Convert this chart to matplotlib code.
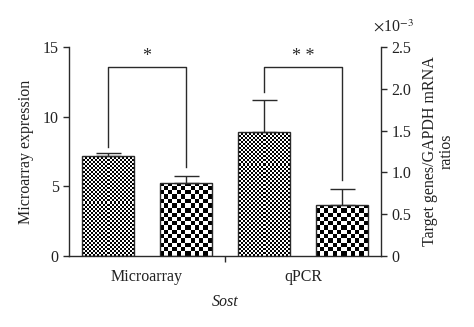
import numpy as np
import matplotlib
matplotlib.use("Agg")
import matplotlib.pyplot as plt

plt.rcParams['font.family'] = ['Liberation Serif', 'DejaVu Serif']
plt.rcParams['mathtext.fontset'] = 'stix'

# Data
groups = ["Microarray", "qPCR"]
micro_means = [7.18, 5.26]
micro_err = [0.22, 0.48]
qpcr_means = [1.487e-3, 0.607e-3]
qpcr_err = [0.38e-3, 0.20e-3]
sig_labels = ["*", "* *"]
left_ticks = [0, 5, 10, 15]
right_ticks = [0, 0.5e-3, 1.0e-3, 1.5e-3, 2.0e-3, 2.5e-3]
right_ticklabels = ["0", "0.5", "1.0", "1.5", "2.0", "2.5"]

W, H = 474, 327
fig = plt.figure(figsize=(W/100, H/100), dpi=100)
ax = fig.add_axes([69/W, 1-256/H, (381-69)/W, (256-47)/H])
ax2 = ax.twinx()

col = '#2a2a2a'
fs = 11.5
bw = 0.667
xpos = np.arange(4)

ax.set_xlim(-0.5, 3.5)
ax.set_ylim(0, 15)
ax2.set_ylim(0, 2.5e-3)

def checker(axis, x, h, cell_px):
    p0 = axis.transData.transform((x - bw/2, 0))
    p1 = axis.transData.transform((x + bw/2, h))
    x0, x1 = int(np.floor(p0[0])), int(np.ceil(p1[0]))
    y0, y1 = int(np.floor(p0[1])), int(np.ceil(p1[1]))
    ix = np.arange(x1 - x0)
    iy = np.arange(y1 - y0)
    img = ((np.floor(iy / cell_px)[:, None] + np.floor(ix / cell_px)[None, :]) % 2).astype(float)
    inv = axis.transData.inverted()
    d0 = inv.transform((x0, y0))
    d1 = inv.transform((x1, y1))
    b = axis.bar(x, h, width=bw, facecolor='none', edgecolor=col, linewidth=1.0, zorder=3)
    im = axis.imshow(img, cmap='gray', vmin=0, vmax=1, extent=(d0[0], d1[0], d0[1], d1[1]),
                     origin='lower', aspect='auto', interpolation='nearest', zorder=2)
    im.set_clip_path(b.patches[0])

cells = [2, 4.3]
for i in range(2):
    checker(ax, xpos[i], micro_means[i], cells[i])
    ax.errorbar(xpos[i], micro_means[i], yerr=[[0], [micro_err[i]]], fmt='none',
                ecolor=col, elinewidth=1.0, capsize=9, capthick=1.0, zorder=4)
    checker(ax2, xpos[2+i], qpcr_means[i], cells[i])
    ax2.errorbar(xpos[2+i], qpcr_means[i], yerr=[[0], [qpcr_err[i]]], fmt='none',
                 ecolor=col, elinewidth=1.0, capsize=9, capthick=1.0, zorder=4)

ax.set_xlim(-0.5, 3.5)
ax.set_ylim(0, 15)
ax2.set_ylim(0, 2.5e-3)

# significance brackets (left-axis units)
top = 13.6
ax.plot([0, 0, 1, 1], [7.85, top, top, 6.4], color=col, lw=1.0)
ax.text(0.5, top + 0.1, sig_labels[0], ha='center', va='bottom', fontsize=13, color=col)
ax.plot([2, 2, 3, 3], [11.8, top, top, 5.45], color=col, lw=1.0)
ax.text(2.5, top + 0.1, sig_labels[1], ha='center', va='bottom', fontsize=13, color=col)

for a in (ax, ax2):
    a.spines['top'].set_visible(False)
    for s in a.spines.values():
        s.set_color(col)
        s.set_linewidth(1.0)
ax.spines['right'].set_visible(False)
ax2.spines['left'].set_visible(False)
ax2.spines['bottom'].set_visible(False)

ax.set_yticks(left_ticks)
ax.set_yticklabels([str(t) for t in left_ticks])
ax2.set_yticks(right_ticks)
ax2.set_yticklabels(right_ticklabels)
ax.set_xticks([1.5])
ax.set_xticklabels([""])
ax.tick_params(axis='y', direction='out', length=4, width=1, colors=col, labelsize=fs, labelcolor='#222')
ax2.tick_params(axis='y', direction='out', length=4, width=1, colors=col, labelsize=fs, labelcolor='#222')
ax.tick_params(axis='x', direction='out', length=4, width=1, colors=col)

for gx, g in zip([0.5, 2.5], groups):
    ax.text(gx, -0.06, g, transform=ax.get_xaxis_transform(), ha='center', va='top',
            fontsize=fs, color='#222')
ax.text(1.5, -0.18, "Sost", transform=ax.get_xaxis_transform(), ha='center', va='top',
        fontsize=fs, style='italic', color='#222')

ax.set_ylabel("Microarray expression", fontsize=fs, color='#222', labelpad=6)
ax2.set_ylabel("Target genes/GAPDH mRNA\nratios", fontsize=fs, color='#222', labelpad=8,
               linespacing=1.0)
fig.text(393/W, 1-27/H, r"$\times$10$^{-3}$", ha='center', va='center', fontsize=fs, color='#222')

fig.savefig("out.png", dpi=100)
